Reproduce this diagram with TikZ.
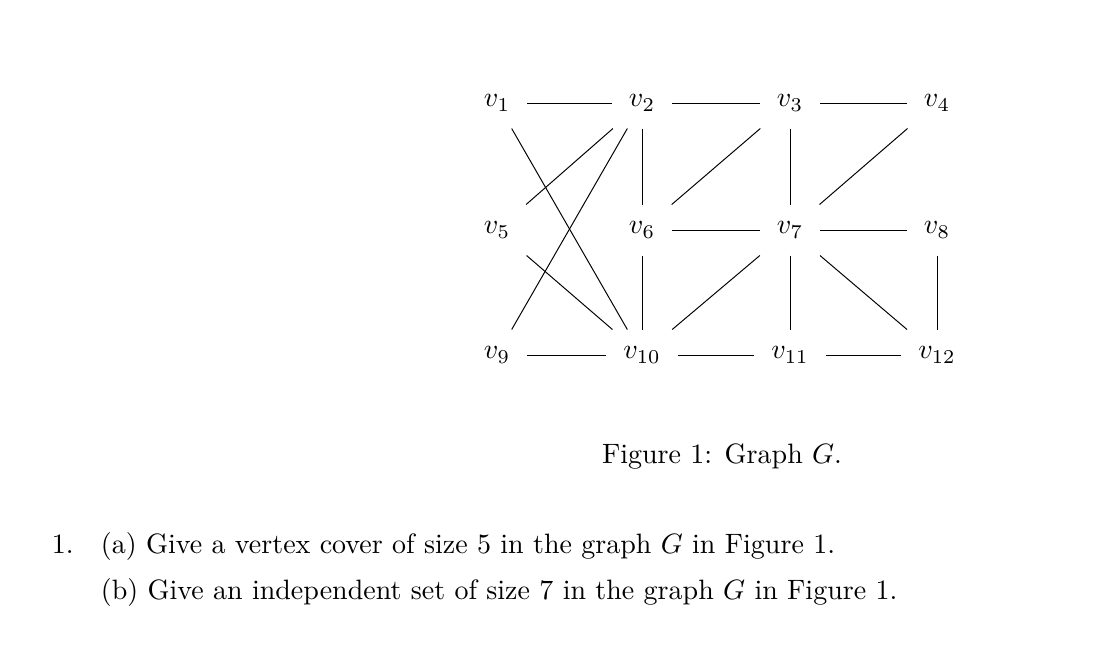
\documentclass[tikz,border=0pt]{standalone}
\begin{document}
\begin{tikzpicture}[x=0.357pt,y=-0.357pt,
  vtx/.style={inner sep=6pt},
  edge/.style={line width=0.35pt}]
\useasboundingbox (0,0) rectangle (1096,644);
\node[vtx] (v1) at (497,103) {$v_1$};
\node[vtx] (v2) at (642,103) {$v_2$};
\node[vtx] (v3) at (790,103) {$v_3$};
\node[vtx] (v4) at (937,103) {$v_4$};
\node[vtx] (v5) at (497,230) {$v_5$};
\node[vtx] (v6) at (642,230) {$v_6$};
\node[vtx] (v7) at (790,230) {$v_7$};
\node[vtx] (v8) at (937,230) {$v_8$};
\node[vtx] (v9) at (497,355) {$v_9$};
\node[vtx] (v10) at (642,355) {$v_{10}$};
\node[vtx] (v11) at (790,355) {$v_{11}$};
\node[vtx] (v12) at (937,355) {$v_{12}$};
\foreach \a/\b in {v1/v2,v2/v3,v3/v4,v5/v2,v1/v10,v9/v2,v5/v10,v2/v6,v6/v3,v3/v7,v7/v4,v6/v7,v7/v8,v6/v10,v10/v7,v7/v11,v7/v12,v8/v12,v9/v10,v10/v11,v11/v12}
  \draw[edge] (\a) -- (\b);
\node (cap) at (722,456) {Figure 1: Graph $G$.};
\node[anchor=base west] (n1) at (42,553) {1.};
\node[anchor=base west] (qa) at (91,553) {(a)\ Give a vertex cover of size 5 in the graph $G$ in Figure 1.};
\node[anchor=base west] (qb) at (91,599) {(b)\ Give an independent set of size 7 in the graph $G$ in Figure 1.};
\end{tikzpicture}
\end{document}
